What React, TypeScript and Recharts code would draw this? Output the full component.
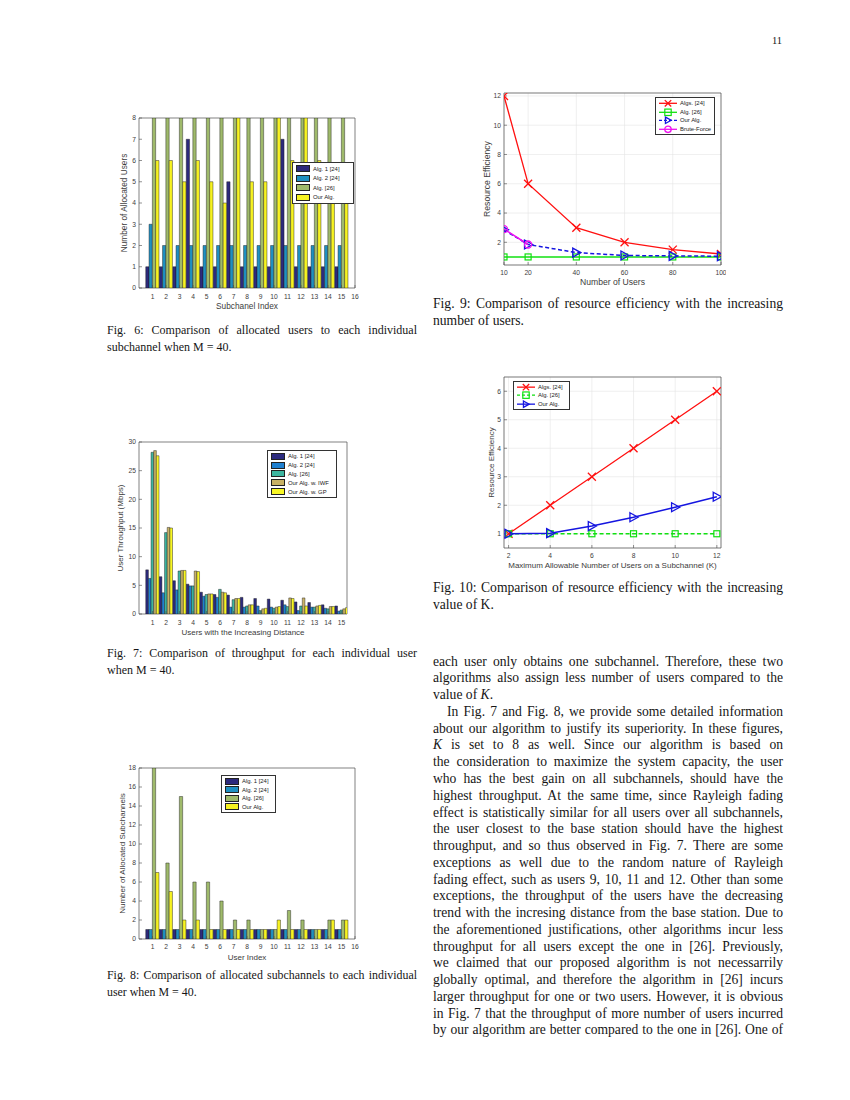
import React from "react";
import {
  BarChart,
  Bar,
  LineChart,
  Line,
  XAxis,
  YAxis,
  CartesianGrid,
  ReferenceArea,
  Legend,
} from "recharts";

const SANS = "'Liberation Sans', Arial, Helvetica, sans-serif";
const SERIF = "'Liberation Serif', 'Times New Roman', serif";
const AXIS_TEXT = "#3c3c3c";
const FRAME = "#4a4a4a";

// Fig. 6 - allocated users per subchannel
const SUBCHANNELS = [1, 2, 3, 4, 5, 6, 7, 8, 9, 10, 11, 12, 13, 14, 15];
const F6_ALG1 = [1, 1, 1, 7, 1, 1, 5, 1, 1, 1, 7, 1, 1, 1, 1];
const F6_ALG2 = [3, 2, 2, 2, 2, 2, 2, 2, 2, 2, 2, 2, 2, 2, 2];
const F6_ALG26 = [8, 8, 8, 8, 8, 8, 8, 8, 8, 8, 8, 8, 8, 8, 8];
const F6_OUR = [6, 6, 5, 6, 5, 4, 8, 5, 5, 8, 6, 8, 6, 4, 4];
const F6_X_TICKS = [1, 2, 3, 4, 5, 6, 7, 8, 9, 10, 11, 12, 13, 14, 15, 16];
const F6_Y_TICKS = [0, 1, 2, 3, 4, 5, 6, 7, 8];

// Fig. 7 - user throughput (Mbps)
const USERS = [1, 2, 3, 4, 5, 6, 7, 8, 9, 10, 11, 12, 13, 14, 15];
const F7_ALG1 = [7.7, 6.5, 5.8, 5.2, 3.8, 3.4, 3.3, 2.9, 2.7, 2.6, 2.4, 2.1, 2.0, 1.6, 1.4];
const F7_ALG2 = [6.2, 3.7, 4.2, 4.9, 3.1, 2.9, 1.2, 1.2, 1.4, 1.2, 1.6, 0.6, 1.2, 1.0, 0.5];
const F7_ALG26 = [28.2, 14.2, 7.5, 4.9, 3.4, 4.3, 2.5, 1.4, 0.6, 1.0, 1.3, 1.4, 1.2, 0.9, 0.7];
const F7_IWF = [28.5, 15.1, 7.6, 7.5, 3.5, 3.8, 2.7, 1.6, 0.9, 1.2, 2.8, 2.8, 1.4, 1.3, 0.9];
const F7_GP = [27.6, 15.0, 7.6, 7.4, 3.5, 3.7, 2.7, 1.6, 1.0, 1.3, 2.7, 1.4, 1.5, 1.3, 1.1];
const F7_X_TICKS = [1, 2, 3, 4, 5, 6, 7, 8, 9, 10, 11, 12, 13, 14, 15];
const F7_Y_TICKS = [0, 5, 10, 15, 20, 25, 30];

// Fig. 8 - allocated subchannels per user
const F8_ALG1 = [1, 1, 1, 1, 1, 1, 1, 1, 1, 1, 1, 1, 1, 1, 1];
const F8_ALG2 = [1, 1, 1, 1, 1, 1, 1, 1, 1, 1, 1, 1, 1, 1, 1];
const F8_ALG26 = [18, 8, 15, 6, 6, 4, 2, 2, 1, 1, 3, 2, 1, 2, 2];
const F8_OUR = [7, 5, 2, 2, 1, 1, 1, 1, 1, 2, 1, 1, 1, 2, 2];
const F8_Y_TICKS = [0, 2, 4, 6, 8, 10, 12, 14, 16, 18];

// Fig. 9 - resource efficiency vs number of users
const NUM_USERS = [10, 20, 40, 60, 80, 100];
const F9_ALG24 = [12, 6, 3, 2, 1.5, 1.2];
const F9_ALG26 = [1, 1, 1, 1, 1, 1];
const F9_OUR = [2.85, 1.85, 1.3, 1.1, 1.07, 1.05];
const F9_BRUTE = [2.9, 1.85, null, null, null, null];
const F9_Y_TICKS = [2, 4, 6, 8, 10, 12];

// Fig. 10 - resource efficiency vs K
const K_VALUES = [2, 4, 6, 8, 10, 12];
const F10_ALG24 = [1, 2, 3, 4, 5, 6];
const F10_ALG26 = [1, 1, 1, 1, 1, 1];
const F10_OUR = [1, 1.02, 1.27, 1.58, 1.93, 2.3];
const F10_Y_TICKS = [1, 2, 3, 4, 5, 6];

const NAVY = "#2d2a7c";
const TEAL4 = "#1f90c2";
const OLIVE = "#9fba6b";
const YELLOW = "#f7f321";

type MarkerKind = "x" | "square" | "tri" | "circle";

function Marker({ kind, cx, cy, color, size }: { kind: MarkerKind; cx: number; cy: number; color: string; size: number }) {
  if (kind === "x") {
    return (
      <g stroke={color} strokeWidth={1.3}>
        <line x1={cx - size} y1={cy - size} x2={cx + size} y2={cy + size} />
        <line x1={cx - size} y1={cy + size} x2={cx + size} y2={cy - size} />
      </g>
    );
  }
  if (kind === "square") {
    return <rect x={cx - size} y={cy - size} width={size * 2} height={size * 2} fill="none" stroke={color} strokeWidth={1.2} />;
  }
  if (kind === "tri") {
    const pts = `${cx - size * 0.8},${cy - size} ${cx + size},${cy} ${cx - size * 0.8},${cy + size}`;
    return <polygon points={pts} fill="none" stroke={color} strokeWidth={1.3} />;
  }
  return <circle cx={cx} cy={cy} r={size} fill="none" stroke={color} strokeWidth={1.3} />;
}

const dotOf = (kind: MarkerKind, color: string, size: number) => (p: any) => {
  if (p.cx == null || p.cy == null || p.value == null) return <g key={`d${p.index}`} />;
  return <Marker key={`d${p.index}`} kind={kind} cx={p.cx} cy={p.cy} color={color} size={size} />;
};

type Entry = { key: string; label: string; color: string; marker?: MarkerKind; dashed?: boolean; width?: number };

function LegendBox({ entries, width, rowH, lines }: { entries: Entry[]; width: number; rowH: number; lines?: boolean }) {
  return (
    <div
      style={{
        width,
        boxSizing: "border-box",
        background: "#fff",
        border: "0.8px solid #333",
        padding: "1px 0",
        fontFamily: SANS,
        fontSize: 5.9,
        color: "#222",
      }}
    >
      {entries.map((e) => (
        <div key={e.key} style={{ height: rowH, display: "flex", alignItems: "center", whiteSpace: "nowrap" }}>
          {lines ? (
            <svg width={20} height={rowH} style={{ margin: "0 2px 0 2px", overflow: "visible" }}>
              <line x1={1} x2={19} y1={rowH / 2} y2={rowH / 2} stroke={e.color} strokeWidth={1.3} strokeDasharray={e.dashed ? "3 2" : undefined} />
              {e.marker && <Marker kind={e.marker} cx={10} cy={rowH / 2} color={e.color} size={3.2} />}
            </svg>
          ) : (
            <span style={{ display: "inline-block", width: 12, height: 5, background: e.color, border: "0.5px solid #222", margin: "0 3px 0 3px" }} />
          )}
          <span>{e.label}</span>
        </div>
      ))}
    </div>
  );
}

type Geo = { left: number; top: number; plotW: number; plotH: number; yW: number; xH: number; mt: number; mr: number };

const tickStyle = { fontSize: 6.7, fill: AXIS_TEXT, fontFamily: SANS };
const labelStyle = (size: number) => ({ textAnchor: "middle" as const, fontSize: size, fill: AXIS_TEXT, fontFamily: SANS });

type BarFigProps = {
  geo: Geo;
  data: any[];
  series: Entry[];
  xDomain: [number, number];
  xTicks: number[];
  yDomain: [number, number];
  yTicks: number[];
  xLabel: string;
  yLabel: string;
  yLabelX: number;
  xTickMargin: number;
  xLabelOffset: number;
  labelSize: number;
  legendAt: { x: number; y: number; w: number; rowH: number };
};

function BarFigure(props: BarFigProps & { barSize: number }) {
  const { geo, data, series, xDomain, xTicks, yDomain, yTicks, legendAt } = props;
  const width = geo.yW + geo.plotW + geo.mr;
  const height = geo.mt + geo.plotH + geo.xH;
  return (
    <div style={{ position: "absolute", left: geo.left - geo.yW, top: geo.top - geo.mt }}>
      <BarChart
        width={width}
        height={height}
        data={data}
        margin={{ top: geo.mt, right: geo.mr, left: 0, bottom: 0 }}
        barCategoryGap="1%"
        barGap={0}
      >
        <XAxis
          type="number"
          dataKey="x"
          domain={xDomain}
          ticks={xTicks}
          interval={0}
          allowDataOverflow
          height={geo.xH}
          axisLine={false}
          tickSize={-3}
          tickMargin={props.xTickMargin}
          tick={tickStyle}
          tickLine={{ stroke: FRAME, strokeWidth: 0.6 }}
          label={{ value: props.xLabel, position: "insideBottom", offset: props.xLabelOffset, style: labelStyle(props.labelSize) }}
        />
        <YAxis
          type="number"
          domain={yDomain}
          ticks={yTicks}
          interval={0}
          allowDataOverflow
          width={geo.yW}
          axisLine={false}
          tickSize={-3}
          tickMargin={6}
          tick={tickStyle}
          tickLine={{ stroke: FRAME, strokeWidth: 0.6 }}
          label={{ value: props.yLabel, angle: -90, position: "insideLeft", offset: props.yLabelX, style: labelStyle(props.labelSize) }}
        />
        {series.map((s) => (
          <Bar
            key={s.key}
            dataKey={s.key}
            fill={s.color}
            stroke="#1c1c1c"
            strokeWidth={0.45}
            barSize={props.barSize}
            isAnimationActive={false}
          />
        ))}
        <ReferenceArea x1={xDomain[0]} x2={xDomain[1]} y1={yDomain[0]} y2={yDomain[1]} fill="none" stroke={FRAME} strokeWidth={0.7} ifOverflow="visible" />
        <Legend
          layout="horizontal"
          verticalAlign="middle"
          align="center"
          wrapperStyle={{ left: legendAt.x, top: legendAt.y, width: legendAt.w }}
          content={() => <LegendBox entries={series} width={legendAt.w} rowH={legendAt.rowH} />}
        />
      </BarChart>
    </div>
  );
}

function LineFigure(props: BarFigProps & { sizes: number[] }) {
  const { geo, data, series, xDomain, xTicks, yDomain, yTicks, legendAt } = props;
  const width = geo.yW + geo.plotW + geo.mr;
  const height = geo.mt + geo.plotH + geo.xH;
  return (
    <div style={{ position: "absolute", left: geo.left - geo.yW, top: geo.top - geo.mt }}>
      <LineChart width={width} height={height} data={data} margin={{ top: geo.mt, right: geo.mr, left: 0, bottom: 0 }}>
        <CartesianGrid stroke="#e4e4e4" strokeWidth={0.6} />
        <XAxis
          type="number"
          dataKey="x"
          domain={xDomain}
          ticks={xTicks}
          interval={0}
          allowDataOverflow
          height={geo.xH}
          axisLine={false}
          tickSize={-3}
          tickMargin={props.xTickMargin}
          tick={tickStyle}
          tickLine={{ stroke: FRAME, strokeWidth: 0.6 }}
          label={{ value: props.xLabel, position: "insideBottom", offset: props.xLabelOffset, style: labelStyle(props.labelSize) }}
        />
        <YAxis
          type="number"
          domain={yDomain}
          ticks={yTicks}
          interval={0}
          allowDataOverflow
          width={geo.yW}
          axisLine={false}
          tickSize={-3}
          tickMargin={6}
          tick={tickStyle}
          tickLine={{ stroke: FRAME, strokeWidth: 0.6 }}
          label={{ value: props.yLabel, angle: -90, position: "insideLeft", offset: props.yLabelX, style: labelStyle(props.labelSize) }}
        />
        {series.map((s, i) => (
          <Line
            key={s.key}
            type="linear"
            dataKey={s.key}
            stroke={s.color}
            strokeWidth={s.width ?? 1.3}
            strokeDasharray={s.dashed ? "4 2.5" : undefined}
            dot={dotOf(s.marker ?? "circle", s.color, props.sizes[i])}
            activeDot={false}
            isAnimationActive={false}
          />
        ))}
        <ReferenceArea x1={xDomain[0]} x2={xDomain[1]} y1={yDomain[0]} y2={yDomain[1]} fill="none" stroke={FRAME} strokeWidth={0.7} ifOverflow="visible" />
        <Legend
          layout="horizontal"
          verticalAlign="middle"
          align="center"
          wrapperStyle={{ left: legendAt.x, top: legendAt.y, width: legendAt.w }}
          content={() => <LegendBox entries={series} width={legendAt.w} rowH={legendAt.rowH} lines />}
        />
      </LineChart>
    </div>
  );
}

const fig6Rows = SUBCHANNELS.map((x, i) => ({ x, alg1: F6_ALG1[i], alg2: F6_ALG2[i], alg26: F6_ALG26[i], our: F6_OUR[i] }));
const fig7Rows = USERS.map((x, i) => ({ x, alg1: F7_ALG1[i], alg2: F7_ALG2[i], alg26: F7_ALG26[i], iwf: F7_IWF[i], gp: F7_GP[i] }));
const fig8Rows = USERS.map((x, i) => ({ x, alg1: F8_ALG1[i], alg2: F8_ALG2[i], alg26: F8_ALG26[i], our: F8_OUR[i] }));
const fig9Rows = NUM_USERS.map((x, i) => ({ x, alg24: F9_ALG24[i], alg26: F9_ALG26[i], our: F9_OUR[i], brute: F9_BRUTE[i] }));
const fig10Rows = K_VALUES.map((x, i) => ({ x, alg24: F10_ALG24[i], alg26: F10_ALG26[i], our: F10_OUR[i] }));

const FOUR_BARS: Entry[] = [
  { key: "alg1", label: "Alg. 1 [24]", color: NAVY },
  { key: "alg2", label: "Alg. 2 [24]", color: TEAL4 },
  { key: "alg26", label: "Alg. [26]", color: OLIVE },
  { key: "our", label: "Our Alg.", color: YELLOW },
];

const FIVE_BARS: Entry[] = [
  { key: "alg1", label: "Alg. 1 [24]", color: "#2c2a7e" },
  { key: "alg2", label: "Alg. 2 [24]", color: "#1f80d0" },
  { key: "alg26", label: "Alg. [26]", color: "#3db6a0" },
  { key: "iwf", label: "Our Alg. w. IWF", color: "#c9b265" },
  { key: "gp", label: "Our Alg. w. GP", color: "#f8f624" },
];

const FIG9_LINES: Entry[] = [
  { key: "alg24", label: "Algs. [24]", color: "#ff1010", marker: "x" },
  { key: "alg26", label: "Alg. [26]", color: "#10e010", marker: "square", width: 1.6 },
  { key: "our", label: "Our Alg.", color: "#1515e0", marker: "tri", dashed: true, width: 1.5 },
  { key: "brute", label: "Brute-Force", color: "#f010f0", marker: "circle", width: 1.5 },
];

const FIG10_LINES: Entry[] = [
  { key: "alg24", label: "Algs. [24]", color: "#ff1010", marker: "x" },
  { key: "alg26", label: "Alg. [26]", color: "#10e010", marker: "square", dashed: true, width: 1.4 },
  { key: "our", label: "Our Alg.", color: "#1515e0", marker: "tri", width: 1.5 },
];

type Ln = { t: React.ReactNode; last?: boolean; indent?: boolean };

function TextBlock({ x, y, w, size, lh, lines }: { x: number; y: number; w: number; size: number; lh: number; lines: Ln[] }) {
  return (
    <div style={{ position: "absolute", left: x, top: y - lh / 2, width: w, fontSize: size, lineHeight: `${lh}px` }}>
      {lines.map((l, i) => (
        <div
          key={i}
          style={{
            height: lh,
            textAlign: "justify",
            textAlignLast: l.last ? "left" : "justify",
            paddingLeft: l.indent ? 14 : 0,
          }}
        >
          {l.t}
        </div>
      ))}
    </div>
  );
}

const K = <i>K</i>;

const BODY: Ln[] = [
  { t: "each user only obtains one subchannel. Therefore, these two" },
  { t: "algorithms also assign less number of users compared to the" },
  { t: <>value of {K}.</>, last: true },
  { t: "In Fig. 7 and Fig. 8, we provide some detailed information", indent: true },
  { t: "about our algorithm to justify its superiority. In these figures," },
  { t: <>{K} is set to 8 as well. Since our algorithm is based on</> },
  { t: "the consideration to maximize the system capacity, the user" },
  { t: "who has the best gain on all subchannels, should have the" },
  { t: "highest throughput. At the same time, since Rayleigh fading" },
  { t: "effect is statistically similar for all users over all subchannels," },
  { t: "the user closest to the base station should have the highest" },
  { t: "throughput, and so thus observed in Fig. 7. There are some" },
  { t: "exceptions as well due to the random nature of Rayleigh" },
  { t: "fading effect, such as users 9, 10, 11 and 12. Other than some" },
  { t: "exceptions, the throughput of the users have the decreasing" },
  { t: "trend with the incresing distance from the base station. Due to" },
  { t: "the aforementioned justifications, other algorithms incur less" },
  { t: "throughput for all users except the one in [26]. Previously," },
  { t: "we claimed that our proposed algorithm is not necessarrily" },
  { t: "globally optimal, and therefore the algorithm in [26] incurs" },
  { t: "larger throughput for one or two users. However, it is obvious" },
  { t: "in Fig. 7 that the throughput of more number of users incurred" },
  { t: "by our algorithm are better compared to the one in [26]. One of" },
];

export default function App() {
  return (
    <div
      style={{
        position: "absolute",
        left: 0,
        top: 0,
        width: 850,
        height: 1100,
        background: "#fff",
        fontFamily: SERIF,
        color: "#161616",
        overflow: "hidden",
      }}
    >
      <div style={{ position: "absolute", left: 772, top: 35, fontSize: 10.5 }}>11</div>

      <BarFigure
        geo={{ left: 139, top: 118, plotW: 216, plotH: 170, yW: 30, xH: 26, mt: 5, mr: 5 }}
        data={fig6Rows}
        series={FOUR_BARS}
        barSize={3.3}
        xDomain={[0, 16]}
        xTicks={F6_X_TICKS}
        yDomain={[0, 8]}
        yTicks={F6_Y_TICKS}
        xLabel="Subchanel Index"
        yLabel="Number of Allocated Users"
        yLabelX={15}
        labelSize={8.3}
        xTickMargin={9}
        xLabelOffset={5}
        legendAt={{ x: 183, y: 49, w: 62, rowH: 9.5 }}
      />

      <BarFigure
        geo={{ left: 139, top: 442, plotW: 208, plotH: 172, yW: 30, xH: 26, mt: 5, mr: 5 }}
        data={fig7Rows}
        series={FIVE_BARS}
        barSize={2.65}
        xDomain={[0, 15.4]}
        xTicks={F7_X_TICKS}
        yDomain={[0, 30]}
        yTicks={F7_Y_TICKS}
        xLabel="Users with the Increasing Distance"
        yLabel="User Throughput (Mbps)"
        yLabelX={11}
        labelSize={8}
        xTickMargin={9}
        xLabelOffset={5}
        legendAt={{ x: 158, y: 13, w: 70, rowH: 8.8 }}
      />

      <BarFigure
        geo={{ left: 139, top: 768, plotW: 216, plotH: 171, yW: 30, xH: 26, mt: 5, mr: 5 }}
        data={fig8Rows}
        series={FOUR_BARS}
        barSize={3.3}
        xDomain={[0, 16]}
        xTicks={F6_X_TICKS}
        yDomain={[0, 18]}
        yTicks={F8_Y_TICKS}
        xLabel="User Index"
        yLabel="Number of Allocated Subchannels"
        yLabelX={13}
        labelSize={8}
        xTickMargin={8}
        xLabelOffset={5}
        legendAt={{ x: 112, y: 12, w: 55, rowH: 8.5 }}
      />

      <LineFigure
        geo={{ left: 504, top: 93, plotW: 217, plotH: 172, yW: 32, xH: 28, mt: 5, mr: 5 }}
        data={fig9Rows}
        series={FIG9_LINES}
        sizes={[4, 3, 4.5, 3.5]}
        xDomain={[10, 100]}
        xTicks={NUM_USERS}
        yDomain={[0.45, 12.2]}
        yTicks={F9_Y_TICKS}
        xLabel="Number of Users"
        yLabel="Resource Efficiency"
        yLabelX={15}
        labelSize={8.6}
        xTickMargin={8}
        xLabelOffset={8}
        legendAt={{ x: 183, y: 9, w: 60, rowH: 8.6 }}
      />

      <LineFigure
        geo={{ left: 504, top: 377, plotW: 217, plotH: 171, yW: 32, xH: 26, mt: 5, mr: 5 }}
        data={fig10Rows}
        series={FIG10_LINES}
        sizes={[4, 3, 4.5]}
        xDomain={[1.78, 12.2]}
        xTicks={K_VALUES}
        yDomain={[0.5, 6.5]}
        yTicks={F10_Y_TICKS}
        xLabel="Maximum Allowable Number of Users on a Subchannel (K)"
        yLabel="Resource Efficiency"
        yLabelX={19}
        labelSize={8}
        xTickMargin={8}
        xLabelOffset={6}
        legendAt={{ x: 41, y: 9, w: 57, rowH: 8.3 }}
      />

      <TextBlock
        x={107}
        y={330}
        w={310}
        size={12}
        lh={17}
        lines={[{ t: "Fig. 6: Comparison of allocated users to each individual" }, { t: "subchannel when M = 40.", last: true }]}
      />
      <TextBlock
        x={107}
        y={653}
        w={310}
        size={12}
        lh={17}
        lines={[{ t: "Fig. 7: Comparison of throughput for each individual user" }, { t: "when M = 40.", last: true }]}
      />
      <TextBlock
        x={107}
        y={975}
        w={310}
        size={11.9}
        lh={17}
        lines={[{ t: "Fig. 8: Comparison of allocated subchannels to each individual" }, { t: "user when M = 40.", last: true }]}
      />
      <TextBlock
        x={433}
        y={303}
        w={350}
        size={13.6}
        lh={17}
        lines={[{ t: "Fig. 9: Comparison of resource efficiency with the increasing" }, { t: "number of users.", last: true }]}
      />
      <TextBlock
        x={433}
        y={587}
        w={350}
        size={13.6}
        lh={17}
        lines={[{ t: "Fig. 10: Comparison of resource efficiency with the increasing" }, { t: <>value of K.</>, last: true }]}
      />
      <TextBlock x={433} y={662} w={350} size={13.6} lh={16.77} lines={BODY} />
    </div>
  );
}
